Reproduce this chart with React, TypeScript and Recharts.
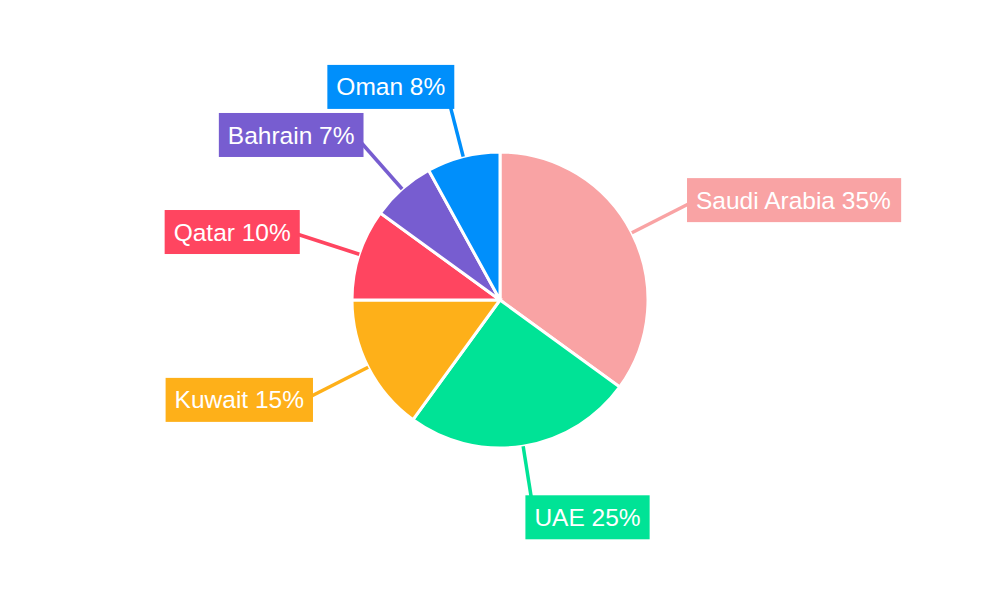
import React from 'react';
import { PieChart, Pie, Cell } from 'recharts';

const countries = ['Saudi Arabia', 'UAE', 'Kuwait', 'Qatar', 'Bahrain', 'Oman'];
const shares = [35, 25, 15, 10, 7, 8];
const colors = ['#F9A3A4', '#00E396', '#FEB019', '#FF4560', '#775DD0', '#008FFB'];

const data = countries.map((name, i) => ({ name, value: shares[i] }));

const RADIAN = Math.PI / 180;
const FONT_SIZE = 24.5;
const FONT_FAMILY = "'Liberation Sans', Arial, sans-serif";
const PAD = 9;
const BOX_H = 44;

let ctx: CanvasRenderingContext2D | null = null;
function textWidth(s: string) {
  if (!ctx) ctx = document.createElement('canvas').getContext('2d');
  if (!ctx) return s.length * 12;
  ctx.font = `${FONT_SIZE}px ${FONT_FAMILY}`;
  return ctx.measureText(s).width;
}

const renderLabel = (props: any) => {
  const { cx, cy, midAngle, outerRadius, name, value, index } = props;
  const cos = Math.cos(-midAngle * RADIAN);
  const sin = Math.sin(-midAngle * RADIAN);
  const sx = cx + outerRadius * cos;
  const sy = cy + outerRadius * sin;
  const ex = cx + (outerRadius + 64) * cos;
  const ey = cy + (outerRadius + 64) * sin;
  const lx = cx + (outerRadius + 72) * cos;
  const ly = cy + (outerRadius + 72) * sin;
  const text = `${name} ${value}%`;
  const w = textWidth(text);
  const right = cos >= 0;
  const boxX = right ? lx - PAD : lx - w - PAD;
  const color = colors[index];
  return (
    <g key={`lbl-${index}`}>
      <line x1={sx} y1={sy} x2={ex} y2={ey} stroke={color} strokeWidth={3.5} />
      <rect x={boxX} y={ly - BOX_H / 2} width={w + PAD * 2} height={BOX_H} fill={color} />
      <text
        x={boxX + PAD}
        y={ly}
        dy="0.35em"
        fill="#fff"
        fontSize={FONT_SIZE}
        fontFamily={FONT_FAMILY}
      >
        {text}
      </text>
    </g>
  );
};

export default function App() {
  return (
    <div style={{ position: 'absolute', left: 0, top: 0, width: 1000, height: 600, background: '#fff' }}>
      <PieChart width={1000} height={600} margin={{ top: 0, right: 0, bottom: 0, left: 0 }}>
        <Pie
          data={data}
          dataKey="value"
          nameKey="name"
          cx={500}
          cy={300}
          outerRadius={148}
          startAngle={90}
          endAngle={-270}
          stroke="#fff"
          strokeWidth={3}
          label={renderLabel}
          labelLine={false}
          isAnimationActive={false}
        >
          {data.map((d, i) => (
            <Cell key={d.name} fill={colors[i]} />
          ))}
        </Pie>
      </PieChart>
    </div>
  );
}
